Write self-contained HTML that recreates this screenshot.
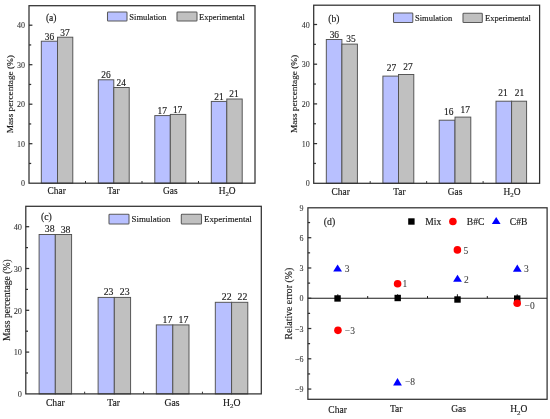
<!DOCTYPE html>
<html><head><meta charset="utf-8"><style>
html,body{margin:0;padding:0;background:#fff;}
body{width:550px;height:419px;overflow:hidden;font-family:"Liberation Serif", serif;}
svg{display:block;filter:blur(0.3px);}
</style></head><body>
<svg width="550" height="419" viewBox="0 0 550 419" font-family='"Liberation Serif", serif' fill="#1a1a1a">
<style>text{stroke:#1a1a1a;stroke-width:0.15;}</style>
<rect width="550" height="419" fill="#fff"/>
<rect x="41.30" y="41.20" width="16.20" height="142.00" fill="#B8C0FF" stroke="#505050" stroke-width="0.95"/>
<rect x="57.50" y="37.20" width="15.30" height="146.00" fill="#C0C0C0" stroke="#505050" stroke-width="0.95"/>
<rect x="98.30" y="79.80" width="15.50" height="103.40" fill="#B8C0FF" stroke="#505050" stroke-width="0.95"/>
<rect x="113.80" y="87.50" width="15.40" height="95.70" fill="#C0C0C0" stroke="#505050" stroke-width="0.95"/>
<rect x="154.80" y="115.60" width="15.50" height="67.60" fill="#B8C0FF" stroke="#505050" stroke-width="0.95"/>
<rect x="170.30" y="114.40" width="15.50" height="68.80" fill="#C0C0C0" stroke="#505050" stroke-width="0.95"/>
<rect x="211.30" y="101.40" width="15.50" height="81.80" fill="#B8C0FF" stroke="#505050" stroke-width="0.95"/>
<rect x="226.80" y="99.00" width="15.40" height="84.20" fill="#C0C0C0" stroke="#505050" stroke-width="0.95"/>
<text x="49.50" y="40.20" font-size="9.4" text-anchor="middle" >36</text>
<text x="65.00" y="36.20" font-size="9.4" text-anchor="middle" >37</text>
<text x="105.90" y="77.70" font-size="9.4" text-anchor="middle" >26</text>
<text x="121.20" y="85.50" font-size="9.4" text-anchor="middle" >24</text>
<text x="162.30" y="113.60" font-size="9.4" text-anchor="middle" >17</text>
<text x="177.60" y="112.50" font-size="9.4" text-anchor="middle" >17</text>
<text x="219.00" y="99.60" font-size="9.4" text-anchor="middle" >21</text>
<text x="233.90" y="96.60" font-size="9.4" text-anchor="middle" >21</text>
<rect x="29" y="5.7" width="226.00" height="177.50" fill="none" stroke="#303030" stroke-width="1.25"/>
<line x1="29.00" y1="163.45" x2="31.20" y2="163.45" stroke="#303030" stroke-width="1.25"/>
<line x1="29.00" y1="143.70" x2="32.40" y2="143.70" stroke="#303030" stroke-width="1.25"/>
<line x1="29.00" y1="123.95" x2="31.20" y2="123.95" stroke="#303030" stroke-width="1.25"/>
<line x1="29.00" y1="104.20" x2="32.40" y2="104.20" stroke="#303030" stroke-width="1.25"/>
<line x1="29.00" y1="84.45" x2="31.20" y2="84.45" stroke="#303030" stroke-width="1.25"/>
<line x1="29.00" y1="64.70" x2="32.40" y2="64.70" stroke="#303030" stroke-width="1.25"/>
<line x1="29.00" y1="44.95" x2="31.20" y2="44.95" stroke="#303030" stroke-width="1.25"/>
<line x1="29.00" y1="25.20" x2="32.40" y2="25.20" stroke="#303030" stroke-width="1.25"/>
<text x="25.10" y="186.40" font-size="8" text-anchor="end" fill="#333333" style="stroke:#333333;stroke-width:0.08">0</text>
<text x="25.10" y="146.90" font-size="8" text-anchor="end" fill="#333333" style="stroke:#333333;stroke-width:0.08">10</text>
<text x="25.10" y="107.40" font-size="8" text-anchor="end" fill="#333333" style="stroke:#333333;stroke-width:0.08">20</text>
<text x="25.10" y="67.90" font-size="8" text-anchor="end" fill="#333333" style="stroke:#333333;stroke-width:0.08">30</text>
<text x="25.10" y="28.40" font-size="8" text-anchor="end" fill="#333333" style="stroke:#333333;stroke-width:0.08">40</text>
<line x1="85.50" y1="183.20" x2="85.50" y2="181.00" stroke="#303030" stroke-width="1.0"/>
<line x1="142.00" y1="183.20" x2="142.00" y2="181.00" stroke="#303030" stroke-width="1.0"/>
<line x1="198.50" y1="183.20" x2="198.50" y2="181.00" stroke="#303030" stroke-width="1.0"/>
<text x="56.70" y="194.40" font-size="9.4" text-anchor="middle" >Char</text>
<text x="113.40" y="194.40" font-size="9.4" text-anchor="middle" >Tar</text>
<text x="170.25" y="194.40" font-size="9.4" text-anchor="middle" >Gas</text>
<text x="227.15" y="194.40" font-size="9.4" text-anchor="middle" >H<tspan font-size="6.77" dy="2.07">2</tspan><tspan dy="-2.07">O</tspan></text>
<rect x="107.5" y="12" width="19.5" height="9" rx="0.8" fill="#B8C0FF" stroke="#5a5a5a" stroke-width="1.05"/>
<text x="129.30" y="19.60" font-size="8.5" text-anchor="start" >Simulation</text>
<rect x="177" y="12" width="20" height="9" rx="0.8" fill="#C0C0C0" stroke="#5a5a5a" stroke-width="1.05"/>
<text x="199.00" y="19.60" font-size="8.5" text-anchor="start" >Experimental</text>
<text x="51.25" y="20.60" font-size="9.6" text-anchor="middle" >(a)</text>
<text transform="translate(13.0,94.2) rotate(-90)" font-size="9.25" text-anchor="middle">Mass percentage (%)</text>
<rect x="326.30" y="39.50" width="15.60" height="143.80" fill="#B8C0FF" stroke="#505050" stroke-width="0.95"/>
<rect x="341.90" y="44.10" width="15.50" height="139.20" fill="#C0C0C0" stroke="#505050" stroke-width="0.95"/>
<rect x="382.90" y="76.10" width="15.60" height="107.20" fill="#B8C0FF" stroke="#505050" stroke-width="0.95"/>
<rect x="398.50" y="74.50" width="15.30" height="108.80" fill="#C0C0C0" stroke="#505050" stroke-width="0.95"/>
<rect x="439.20" y="120.20" width="15.80" height="63.10" fill="#B8C0FF" stroke="#505050" stroke-width="0.95"/>
<rect x="455.00" y="117.10" width="15.80" height="66.20" fill="#C0C0C0" stroke="#505050" stroke-width="0.95"/>
<rect x="496.00" y="101.20" width="15.60" height="82.10" fill="#B8C0FF" stroke="#505050" stroke-width="0.95"/>
<rect x="511.60" y="101.20" width="15.00" height="82.10" fill="#C0C0C0" stroke="#505050" stroke-width="0.95"/>
<text x="334.35" y="37.60" font-size="9.4" text-anchor="middle" >36</text>
<text x="351.00" y="41.70" font-size="9.4" text-anchor="middle" >35</text>
<text x="391.45" y="70.60" font-size="9.4" text-anchor="middle" >27</text>
<text x="407.90" y="69.70" font-size="9.4" text-anchor="middle" >27</text>
<text x="448.65" y="114.60" font-size="9.4" text-anchor="middle" >16</text>
<text x="465.30" y="112.70" font-size="9.4" text-anchor="middle" >17</text>
<text x="503.00" y="95.80" font-size="9.4" text-anchor="middle" >21</text>
<text x="519.50" y="95.80" font-size="9.4" text-anchor="middle" >21</text>
<rect x="313.7" y="5.2" width="225.90" height="178.10" fill="none" stroke="#303030" stroke-width="1.25"/>
<line x1="313.70" y1="163.45" x2="315.90" y2="163.45" stroke="#303030" stroke-width="1.25"/>
<line x1="313.70" y1="143.60" x2="317.10" y2="143.60" stroke="#303030" stroke-width="1.25"/>
<line x1="313.70" y1="123.75" x2="315.90" y2="123.75" stroke="#303030" stroke-width="1.25"/>
<line x1="313.70" y1="103.90" x2="317.10" y2="103.90" stroke="#303030" stroke-width="1.25"/>
<line x1="313.70" y1="84.05" x2="315.90" y2="84.05" stroke="#303030" stroke-width="1.25"/>
<line x1="313.70" y1="64.20" x2="317.10" y2="64.20" stroke="#303030" stroke-width="1.25"/>
<line x1="313.70" y1="44.35" x2="315.90" y2="44.35" stroke="#303030" stroke-width="1.25"/>
<line x1="313.70" y1="24.50" x2="317.10" y2="24.50" stroke="#303030" stroke-width="1.25"/>
<text x="309.70" y="186.40" font-size="8" text-anchor="end" fill="#333333" style="stroke:#333333;stroke-width:0.08">0</text>
<text x="309.70" y="146.70" font-size="8" text-anchor="end" fill="#333333" style="stroke:#333333;stroke-width:0.08">10</text>
<text x="309.70" y="107.00" font-size="8" text-anchor="end" fill="#333333" style="stroke:#333333;stroke-width:0.08">20</text>
<text x="309.70" y="67.30" font-size="8" text-anchor="end" fill="#333333" style="stroke:#333333;stroke-width:0.08">30</text>
<text x="309.70" y="27.60" font-size="8" text-anchor="end" fill="#333333" style="stroke:#333333;stroke-width:0.08">40</text>
<line x1="370.18" y1="183.30" x2="370.18" y2="181.10" stroke="#303030" stroke-width="1.0"/>
<line x1="426.65" y1="183.30" x2="426.65" y2="181.10" stroke="#303030" stroke-width="1.0"/>
<line x1="483.12" y1="183.30" x2="483.12" y2="181.10" stroke="#303030" stroke-width="1.0"/>
<text x="340.70" y="194.60" font-size="9.4" text-anchor="middle" >Char</text>
<text x="399.40" y="194.60" font-size="9.4" text-anchor="middle" >Tar</text>
<text x="455.00" y="194.60" font-size="9.4" text-anchor="middle" >Gas</text>
<text x="512.00" y="194.60" font-size="9.4" text-anchor="middle" >H<tspan font-size="6.77" dy="2.07">2</tspan><tspan dy="-2.07">O</tspan></text>
<rect x="393.5" y="13" width="19.3" height="9.5" rx="0.8" fill="#B8C0FF" stroke="#5a5a5a" stroke-width="1.05"/>
<text x="415.00" y="21.00" font-size="8.5" text-anchor="start" >Simulation</text>
<rect x="463" y="13.3" width="19.3" height="9.2" rx="0.8" fill="#C0C0C0" stroke="#5a5a5a" stroke-width="1.05"/>
<text x="485.00" y="21.00" font-size="8.5" text-anchor="start" >Experimental</text>
<text x="333.90" y="21.70" font-size="9.5" text-anchor="middle" >(b)</text>
<text transform="translate(297.3,94.0) rotate(-90)" font-size="9.25" text-anchor="middle">Mass percentage (%)</text>
<rect x="39.10" y="234.50" width="16.20" height="159.40" fill="#B8C0FF" stroke="#505050" stroke-width="0.95"/>
<rect x="55.30" y="234.50" width="16.30" height="159.40" fill="#C0C0C0" stroke="#505050" stroke-width="0.95"/>
<rect x="98.10" y="297.40" width="16.20" height="96.50" fill="#B8C0FF" stroke="#505050" stroke-width="0.95"/>
<rect x="114.30" y="297.40" width="16.30" height="96.50" fill="#C0C0C0" stroke="#505050" stroke-width="0.95"/>
<rect x="156.30" y="324.90" width="16.50" height="69.00" fill="#B8C0FF" stroke="#505050" stroke-width="0.95"/>
<rect x="172.80" y="324.90" width="16.20" height="69.00" fill="#C0C0C0" stroke="#505050" stroke-width="0.95"/>
<rect x="215.30" y="302.30" width="16.30" height="91.60" fill="#B8C0FF" stroke="#505050" stroke-width="0.95"/>
<rect x="231.60" y="302.30" width="16.20" height="91.60" fill="#C0C0C0" stroke="#505050" stroke-width="0.95"/>
<text x="49.75" y="232.20" font-size="9.8" text-anchor="middle" >38</text>
<text x="65.60" y="232.60" font-size="9.8" text-anchor="middle" >38</text>
<text x="108.55" y="294.60" font-size="9.8" text-anchor="middle" >23</text>
<text x="124.65" y="294.60" font-size="9.8" text-anchor="middle" >23</text>
<text x="167.40" y="322.60" font-size="9.8" text-anchor="middle" >17</text>
<text x="183.40" y="322.60" font-size="9.8" text-anchor="middle" >17</text>
<text x="226.65" y="299.70" font-size="9.8" text-anchor="middle" >22</text>
<text x="242.45" y="299.70" font-size="9.8" text-anchor="middle" >22</text>
<rect x="25.8" y="206.3" width="235.50" height="187.60" fill="none" stroke="#303030" stroke-width="1.25"/>
<line x1="25.80" y1="373.00" x2="28.00" y2="373.00" stroke="#303030" stroke-width="1.25"/>
<line x1="25.80" y1="352.10" x2="29.20" y2="352.10" stroke="#303030" stroke-width="1.25"/>
<line x1="25.80" y1="331.20" x2="28.00" y2="331.20" stroke="#303030" stroke-width="1.25"/>
<line x1="25.80" y1="310.30" x2="29.20" y2="310.30" stroke="#303030" stroke-width="1.25"/>
<line x1="25.80" y1="289.40" x2="28.00" y2="289.40" stroke="#303030" stroke-width="1.25"/>
<line x1="25.80" y1="268.50" x2="29.20" y2="268.50" stroke="#303030" stroke-width="1.25"/>
<line x1="25.80" y1="247.60" x2="28.00" y2="247.60" stroke="#303030" stroke-width="1.25"/>
<line x1="25.80" y1="226.70" x2="29.20" y2="226.70" stroke="#303030" stroke-width="1.25"/>
<text x="22.00" y="397.10" font-size="8.3" text-anchor="end" fill="#333333" style="stroke:#333333;stroke-width:0.08">0</text>
<text x="22.00" y="355.30" font-size="8.3" text-anchor="end" fill="#333333" style="stroke:#333333;stroke-width:0.08">10</text>
<text x="22.00" y="313.50" font-size="8.3" text-anchor="end" fill="#333333" style="stroke:#333333;stroke-width:0.08">20</text>
<text x="22.00" y="271.70" font-size="8.3" text-anchor="end" fill="#333333" style="stroke:#333333;stroke-width:0.08">30</text>
<text x="22.00" y="229.90" font-size="8.3" text-anchor="end" fill="#333333" style="stroke:#333333;stroke-width:0.08">40</text>
<line x1="84.67" y1="393.90" x2="84.67" y2="391.70" stroke="#303030" stroke-width="1.0"/>
<line x1="143.55" y1="393.90" x2="143.55" y2="391.70" stroke="#303030" stroke-width="1.0"/>
<line x1="202.43" y1="393.90" x2="202.43" y2="391.70" stroke="#303030" stroke-width="1.0"/>
<text x="55.30" y="406.00" font-size="9.7" text-anchor="middle" >Char</text>
<text x="113.65" y="406.00" font-size="9.7" text-anchor="middle" >Tar</text>
<text x="171.95" y="406.00" font-size="9.7" text-anchor="middle" >Gas</text>
<text x="231.75" y="406.00" font-size="9.7" text-anchor="middle" >H<tspan font-size="6.98" dy="2.13">2</tspan><tspan dy="-2.13">O</tspan></text>
<rect x="109" y="214.3" width="20" height="9.7" rx="0.8" fill="#B8C0FF" stroke="#5a5a5a" stroke-width="1.05"/>
<text x="131.50" y="222.30" font-size="8.9" text-anchor="start" >Simulation</text>
<rect x="181.3" y="214.3" width="20.2" height="9.7" rx="0.8" fill="#C0C0C0" stroke="#5a5a5a" stroke-width="1.05"/>
<text x="204.00" y="222.30" font-size="8.9" text-anchor="start" >Experimental</text>
<text x="46.45" y="220.40" font-size="9.8" text-anchor="middle" >(c)</text>
<text transform="translate(10.2,300.1) rotate(-90)" font-size="9.7" text-anchor="middle">Mass percentage (%)</text>
<rect x="307.9" y="207.8" width="239.20" height="191.50" fill="none" stroke="#303030" stroke-width="1.25"/>
<line x1="307.90" y1="298.25" x2="547.10" y2="298.25" stroke="#1a1a1a" stroke-width="1.2"/>
<line x1="337.80" y1="298.25" x2="337.80" y2="294.25" stroke="#1a1a1a" stroke-width="1.0"/>
<line x1="397.60" y1="298.25" x2="397.60" y2="294.25" stroke="#1a1a1a" stroke-width="1.0"/>
<line x1="457.40" y1="298.25" x2="457.40" y2="294.25" stroke="#1a1a1a" stroke-width="1.0"/>
<line x1="517.20" y1="298.25" x2="517.20" y2="294.25" stroke="#1a1a1a" stroke-width="1.0"/>
<line x1="367.70" y1="298.25" x2="367.70" y2="296.05" stroke="#1a1a1a" stroke-width="1.0"/>
<line x1="427.50" y1="298.25" x2="427.50" y2="296.05" stroke="#1a1a1a" stroke-width="1.0"/>
<line x1="487.30" y1="298.25" x2="487.30" y2="296.05" stroke="#1a1a1a" stroke-width="1.0"/>
<line x1="307.90" y1="389.06" x2="311.30" y2="389.06" stroke="#303030" stroke-width="1.25"/>
<line x1="307.90" y1="373.93" x2="310.10" y2="373.93" stroke="#303030" stroke-width="1.25"/>
<line x1="307.90" y1="358.79" x2="311.30" y2="358.79" stroke="#303030" stroke-width="1.25"/>
<line x1="307.90" y1="343.65" x2="310.10" y2="343.65" stroke="#303030" stroke-width="1.25"/>
<line x1="307.90" y1="328.52" x2="311.30" y2="328.52" stroke="#303030" stroke-width="1.25"/>
<line x1="307.90" y1="313.38" x2="310.10" y2="313.38" stroke="#303030" stroke-width="1.25"/>
<line x1="307.90" y1="298.25" x2="311.30" y2="298.25" stroke="#303030" stroke-width="1.25"/>
<line x1="307.90" y1="283.12" x2="310.10" y2="283.12" stroke="#303030" stroke-width="1.25"/>
<line x1="307.90" y1="267.98" x2="311.30" y2="267.98" stroke="#303030" stroke-width="1.25"/>
<line x1="307.90" y1="252.84" x2="310.10" y2="252.84" stroke="#303030" stroke-width="1.25"/>
<line x1="307.90" y1="237.71" x2="311.30" y2="237.71" stroke="#303030" stroke-width="1.25"/>
<line x1="307.90" y1="222.57" x2="310.10" y2="222.57" stroke="#303030" stroke-width="1.25"/>
<text x="303.40" y="210.64" font-size="8" text-anchor="end" fill="#333333" style="stroke:#333333;stroke-width:0.08">9</text>
<text x="303.40" y="240.91" font-size="8" text-anchor="end" fill="#333333" style="stroke:#333333;stroke-width:0.08">6</text>
<text x="303.40" y="271.18" font-size="8" text-anchor="end" fill="#333333" style="stroke:#333333;stroke-width:0.08">3</text>
<text x="303.40" y="301.45" font-size="8" text-anchor="end" fill="#333333" style="stroke:#333333;stroke-width:0.08">0</text>
<text x="303.40" y="331.72" font-size="8" text-anchor="end" fill="#333333" style="stroke:#333333;stroke-width:0.08">−3</text>
<text x="303.40" y="361.99" font-size="8" text-anchor="end" fill="#333333" style="stroke:#333333;stroke-width:0.08">−6</text>
<text x="303.40" y="392.26" font-size="8" text-anchor="end" fill="#333333" style="stroke:#333333;stroke-width:0.08">−9</text>
<rect x="334.35" y="295.25" width="6.4" height="6.4" fill="#000"/>
<rect x="394.50" y="294.80" width="6.4" height="6.4" fill="#000"/>
<rect x="454.30" y="296.30" width="6.4" height="6.4" fill="#000"/>
<rect x="514.00" y="295.40" width="6.4" height="6.4" fill="#000"/>
<polygon points="337.60,264.60 333.20,271.60 342.00,271.60" fill="#0000FF"/>
<polygon points="397.50,378.10 393.10,385.50 401.90,385.50" fill="#0000FF"/>
<polygon points="457.50,274.80 453.10,281.80 461.90,281.80" fill="#0000FF"/>
<polygon points="517.30,264.50 512.90,271.80 521.70,271.80" fill="#0000FF"/>
<circle cx="337.95" cy="330.35" r="3.8" fill="#FF0000"/>
<circle cx="397.60" cy="283.70" r="3.8" fill="#FF0000"/>
<circle cx="457.40" cy="249.90" r="3.8" fill="#FF0000"/>
<circle cx="517.20" cy="303.20" r="3.8" fill="#FF0000"/>
<text x="344.80" y="271.60" font-size="9.5" text-anchor="start" fill="#383838" style="stroke:#383838;stroke-width:0.06">3</text>
<text x="344.80" y="333.80" font-size="9.5" text-anchor="start" fill="#383838" style="stroke:#383838;stroke-width:0.06">−3</text>
<text x="402.60" y="287.40" font-size="9.5" text-anchor="start" fill="#383838" style="stroke:#383838;stroke-width:0.06">1</text>
<text x="405.00" y="385.00" font-size="9.5" text-anchor="start" fill="#383838" style="stroke:#383838;stroke-width:0.06">−8</text>
<text x="463.60" y="253.90" font-size="9.5" text-anchor="start" fill="#383838" style="stroke:#383838;stroke-width:0.06">5</text>
<text x="464.10" y="283.00" font-size="9.5" text-anchor="start" fill="#383838" style="stroke:#383838;stroke-width:0.06">2</text>
<text x="524.00" y="272.00" font-size="9.5" text-anchor="start" fill="#383838" style="stroke:#383838;stroke-width:0.06">3</text>
<text x="524.60" y="308.70" font-size="9.5" text-anchor="start" fill="#383838" style="stroke:#383838;stroke-width:0.06">−0</text>
<text x="337.60" y="412.80" font-size="9.5" text-anchor="middle" >Char</text>
<text x="396.15" y="411.60" font-size="9.5" text-anchor="middle" >Tar</text>
<text x="458.65" y="412.40" font-size="9.5" text-anchor="middle" >Gas</text>
<text x="518.80" y="412.40" font-size="9.5" text-anchor="middle" >H<tspan font-size="7" dy="2.1">2</tspan><tspan dy="-2.1">O</tspan></text>
<rect x="408.20" y="218.30" width="6.4" height="6.4" fill="#000"/>
<text x="425.30" y="225.00" font-size="9.6" text-anchor="start" >Mix</text>
<circle cx="452.90" cy="221.50" r="3.8" fill="#FF0000"/>
<text x="466.80" y="225.00" font-size="9.6" text-anchor="start" >B#C</text>
<polygon points="496.20,217.10 491.80,223.90 500.60,223.90" fill="#0000FF"/>
<text x="509.80" y="225.00" font-size="9.6" text-anchor="start" >C#B</text>
<text x="329.55" y="225.30" font-size="9.8" text-anchor="middle" >(d)</text>
<text transform="translate(292.3,303.6) rotate(-90)" font-size="9.85" text-anchor="middle">Relative error (%)</text>
</svg>
</body></html>
